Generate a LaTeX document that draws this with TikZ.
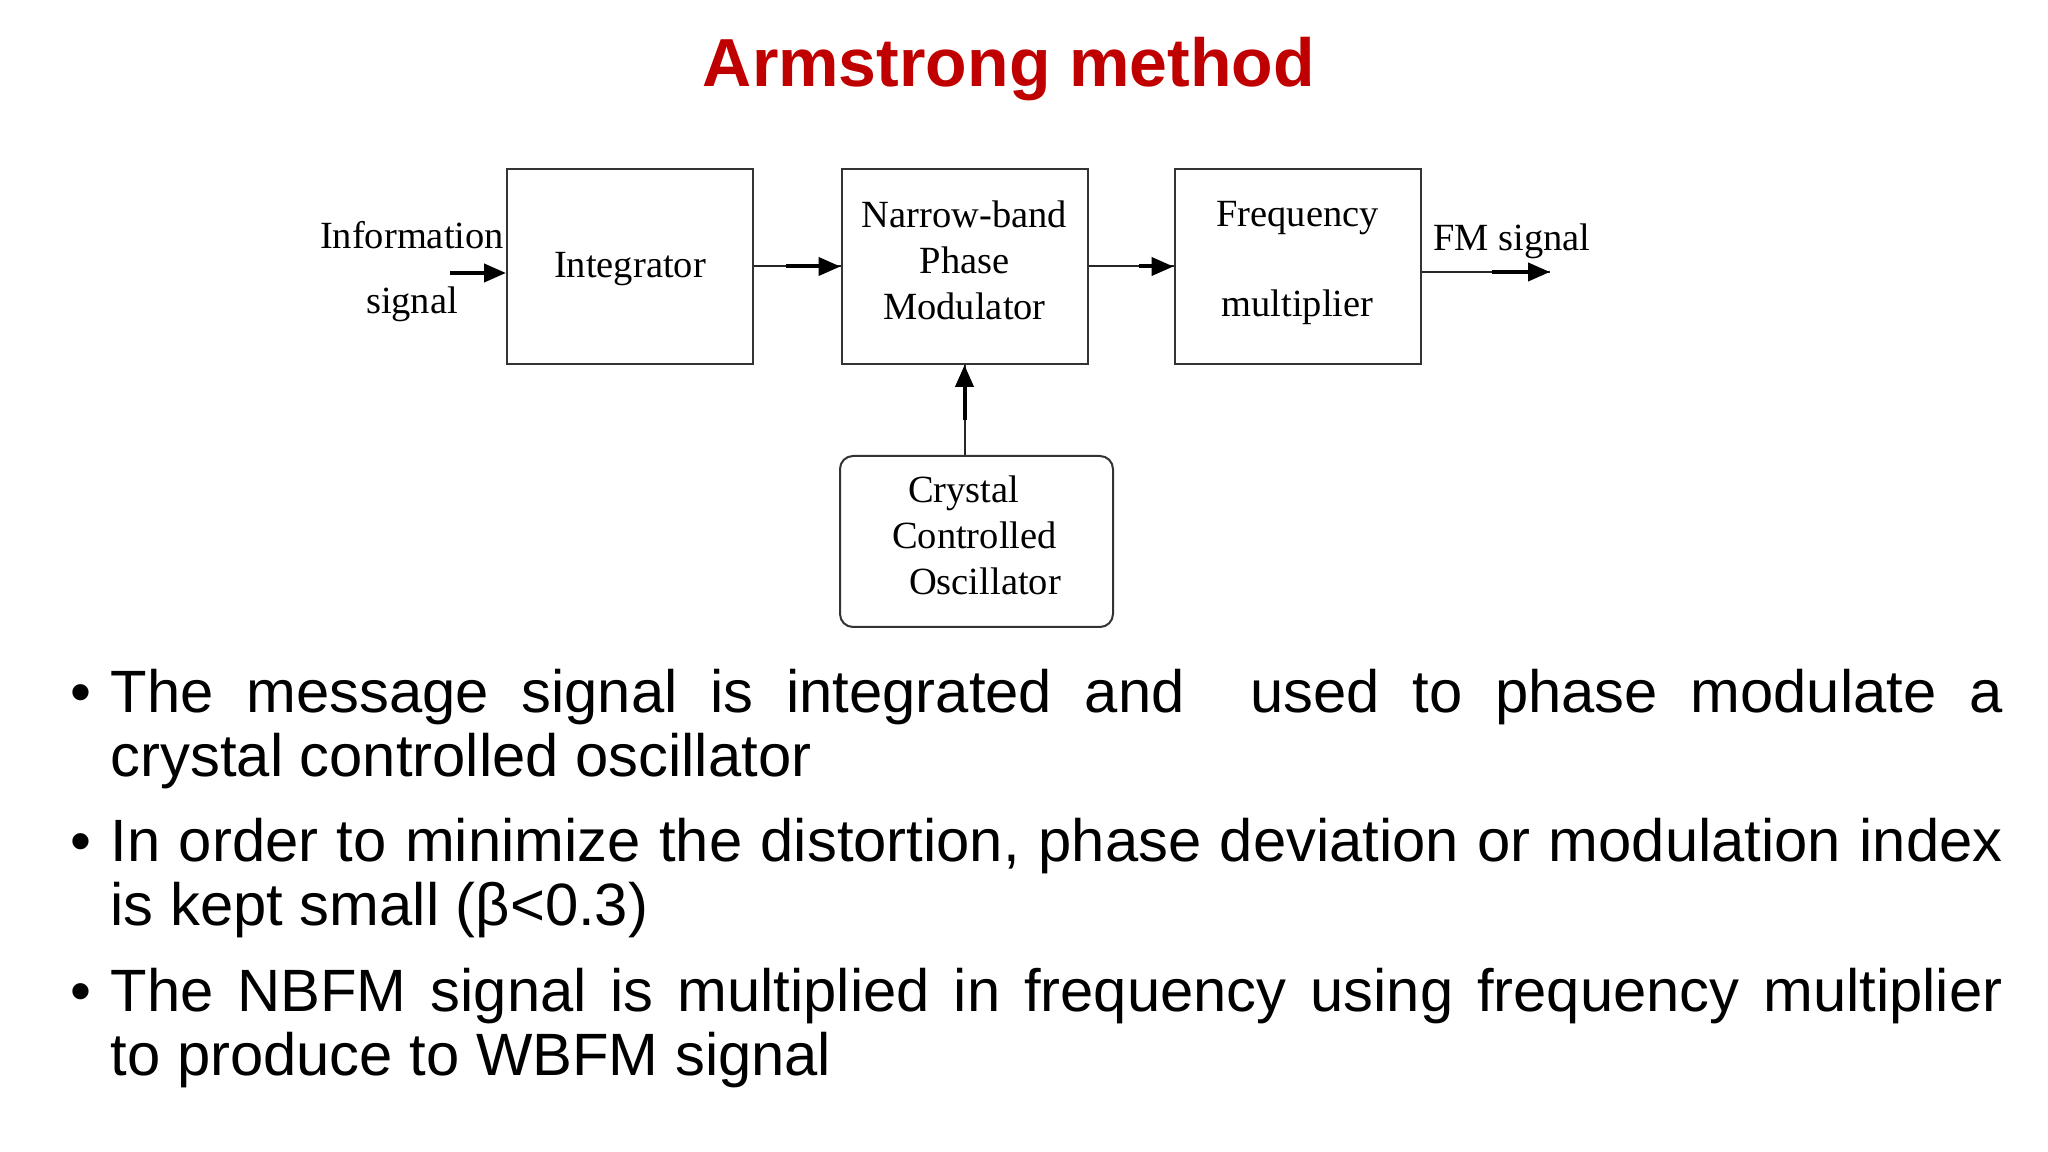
\documentclass[tikz,border=0pt]{standalone}
\usepackage{fontspec}
\setmainfont{Liberation Serif}
\setsansfont{Liberation Sans}
\usetikzlibrary{arrows.meta,calc}

\definecolor{titlered}{RGB}{192,0,0}

\begin{document}
\begin{tikzpicture}[x=0.1mm,y=-0.1mm,
		blk/.style={draw=black!80,line width=0.2mm,minimum width=24.6mm,minimum height=19.5mm,inner sep=0pt,align=center,font=\fontsize{10.95pt}{13.1pt}\selectfont},
		lbl/.style={inner sep=0pt,align=center,font=\fontsize{10.95pt}{13.1pt}\selectfont},
		sig/.style={draw=black!85,line width=0.2mm},
		fat/.style={line width=0.4mm,-{Triangle[length=2.2mm,width=1.8mm]}},
		item/.style={inner sep=0pt,anchor=base west,text width=189.2mm,align=justify,font=\sffamily\fontsize{17pt}{18.21pt}\selectfont},
		dot/.style={inner sep=0pt,anchor=base,font=\sffamily\fontsize{17pt}{18.21pt}\selectfont}]
		\useasboundingbox (0,0) rectangle (2048,1152);
		\fill[white] (0,0) rectangle (2048,1152);
		\node[anchor=base,inner sep=0pt,text=titlered,font=\sffamily\bfseries\fontsize{19.35pt}{23pt}\selectfont] (title) at (1009,87) {Armstrong method};
		% block diagram
		\node[blk,text depth=0.3mm] (integ) at (630,266.5) {Integrator};
		\node[blk,text depth=1.3mm] (nbpm) at (964.5,266.5) {Narrow-band\\Phase\\Modulator};
		\node[blk,text depth=1.5mm] (freq) at (1297.5,266.5) {Frequency\\[12.5pt]multiplier};
		\node[blk,rounded corners=1.3mm,minimum width=27.3mm,minimum height=17.1mm,align=left,text depth=1.3mm] (xtal) at (976.5,541.5) {\hspace*{1.6mm}Crystal\\Controlled\\\hspace*{1.7mm}Oscillator};
		\node[lbl] (info) at (412,271.7) {Information\\[5.4pt]signal};
		\node[lbl] (fmout) at (1512,241) {FM signal};
		\coordinate (src) at (450,273);
		\coordinate (sink) at (1550,272);
		\draw[fat] (src) -- (src -| integ.west);
		\draw[sig] (integ) -- (nbpm);
		\draw[fat,shorten <=3.2mm] (integ) -- (nbpm);
		\draw[sig] (nbpm) -- (freq);
		\draw[fat,shorten <=5mm] (nbpm) -- (freq);
		\draw[sig] (nbpm.south |- xtal.north) -- (nbpm.south);
		\draw[fat,shorten <=3.5mm] (nbpm.south |- xtal.north) -- (nbpm.south);
		\draw[sig] (freq.east |- sink) -- (sink);
		\draw[fat,shorten <=7mm] (freq.east |- sink) -- (sink);
		% bullet points
		\node[dot] (d1) at (81,713) {•};
		\node[item] (b1) at (110,713) {The message signal is integrated and \ used to phase modulate a\linebreak crystal controlled oscillator};
		\node[dot] (d2) at (81,862) {•};
		\node[item] (b2) at (110,862) {In order to minimize the distortion, phase deviation or modulation index\linebreak is kept small (β<0.3)};
		\node[dot] (d3) at (81,1012) {•};
		\node[item] (b3) at (110,1012) {The NBFM signal is multiplied in frequency using frequency multiplier\linebreak to produce to WBFM signal};
	\end{tikzpicture}
\end{document}
